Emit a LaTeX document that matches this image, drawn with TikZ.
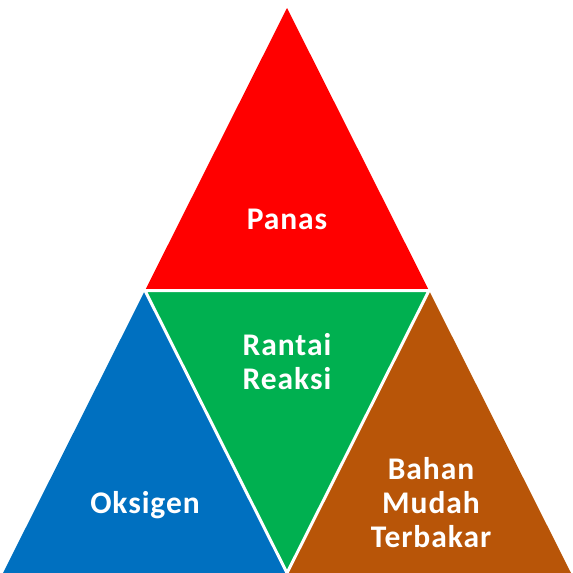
\documentclass[tikz,border=0pt]{standalone}
\usepackage{fontspec}
\setmainfont{Carlito}[LetterSpace=3]
\definecolor{cred}{HTML}{FF0000}
\definecolor{cgreen}{HTML}{00B050}
\definecolor{cblue}{HTML}{0070C0}
\definecolor{cbrown}{HTML}{B85508}
\begin{document}
\begin{tikzpicture}[x=1pt,y=-1pt,
  lbl/.style={text=white,font=\fontsize{31.5}{34}\selectfont\bfseries,align=center,inner sep=0pt},
  sep/.style={draw=white,line width=3pt,line join=miter}]
\useasboundingbox (0,0) rectangle (573,573);
\coordinate (A) at (287,8);
\coordinate (B) at (3,573);
\coordinate (C) at (571,573);
\coordinate (L) at (145,290.5);
\coordinate (R) at (429,290.5);
\coordinate (M) at (287,573);
\fill[cred] (A) -- (L) -- (R) -- cycle;
\fill[cgreen] (L) -- (R) -- (M) -- cycle;
\fill[cblue] (L) -- (B) -- (M) -- cycle;
\fill[cbrown] (R) -- (M) -- (C) -- cycle;
\draw[sep] (L) -- (R) -- (M) -- cycle;
\node[lbl,anchor=base] (panas) at (287,229) {Panas};
\node[lbl] (rantai) at (287,362) {Rantai\\Reaksi};
\node[lbl,anchor=base] (oksigen) at (145,513) {Oksigen};
\node[lbl] (bahan) at (431,503) {Bahan\\Mudah\\Terbakar};
\end{tikzpicture}
\end{document}
